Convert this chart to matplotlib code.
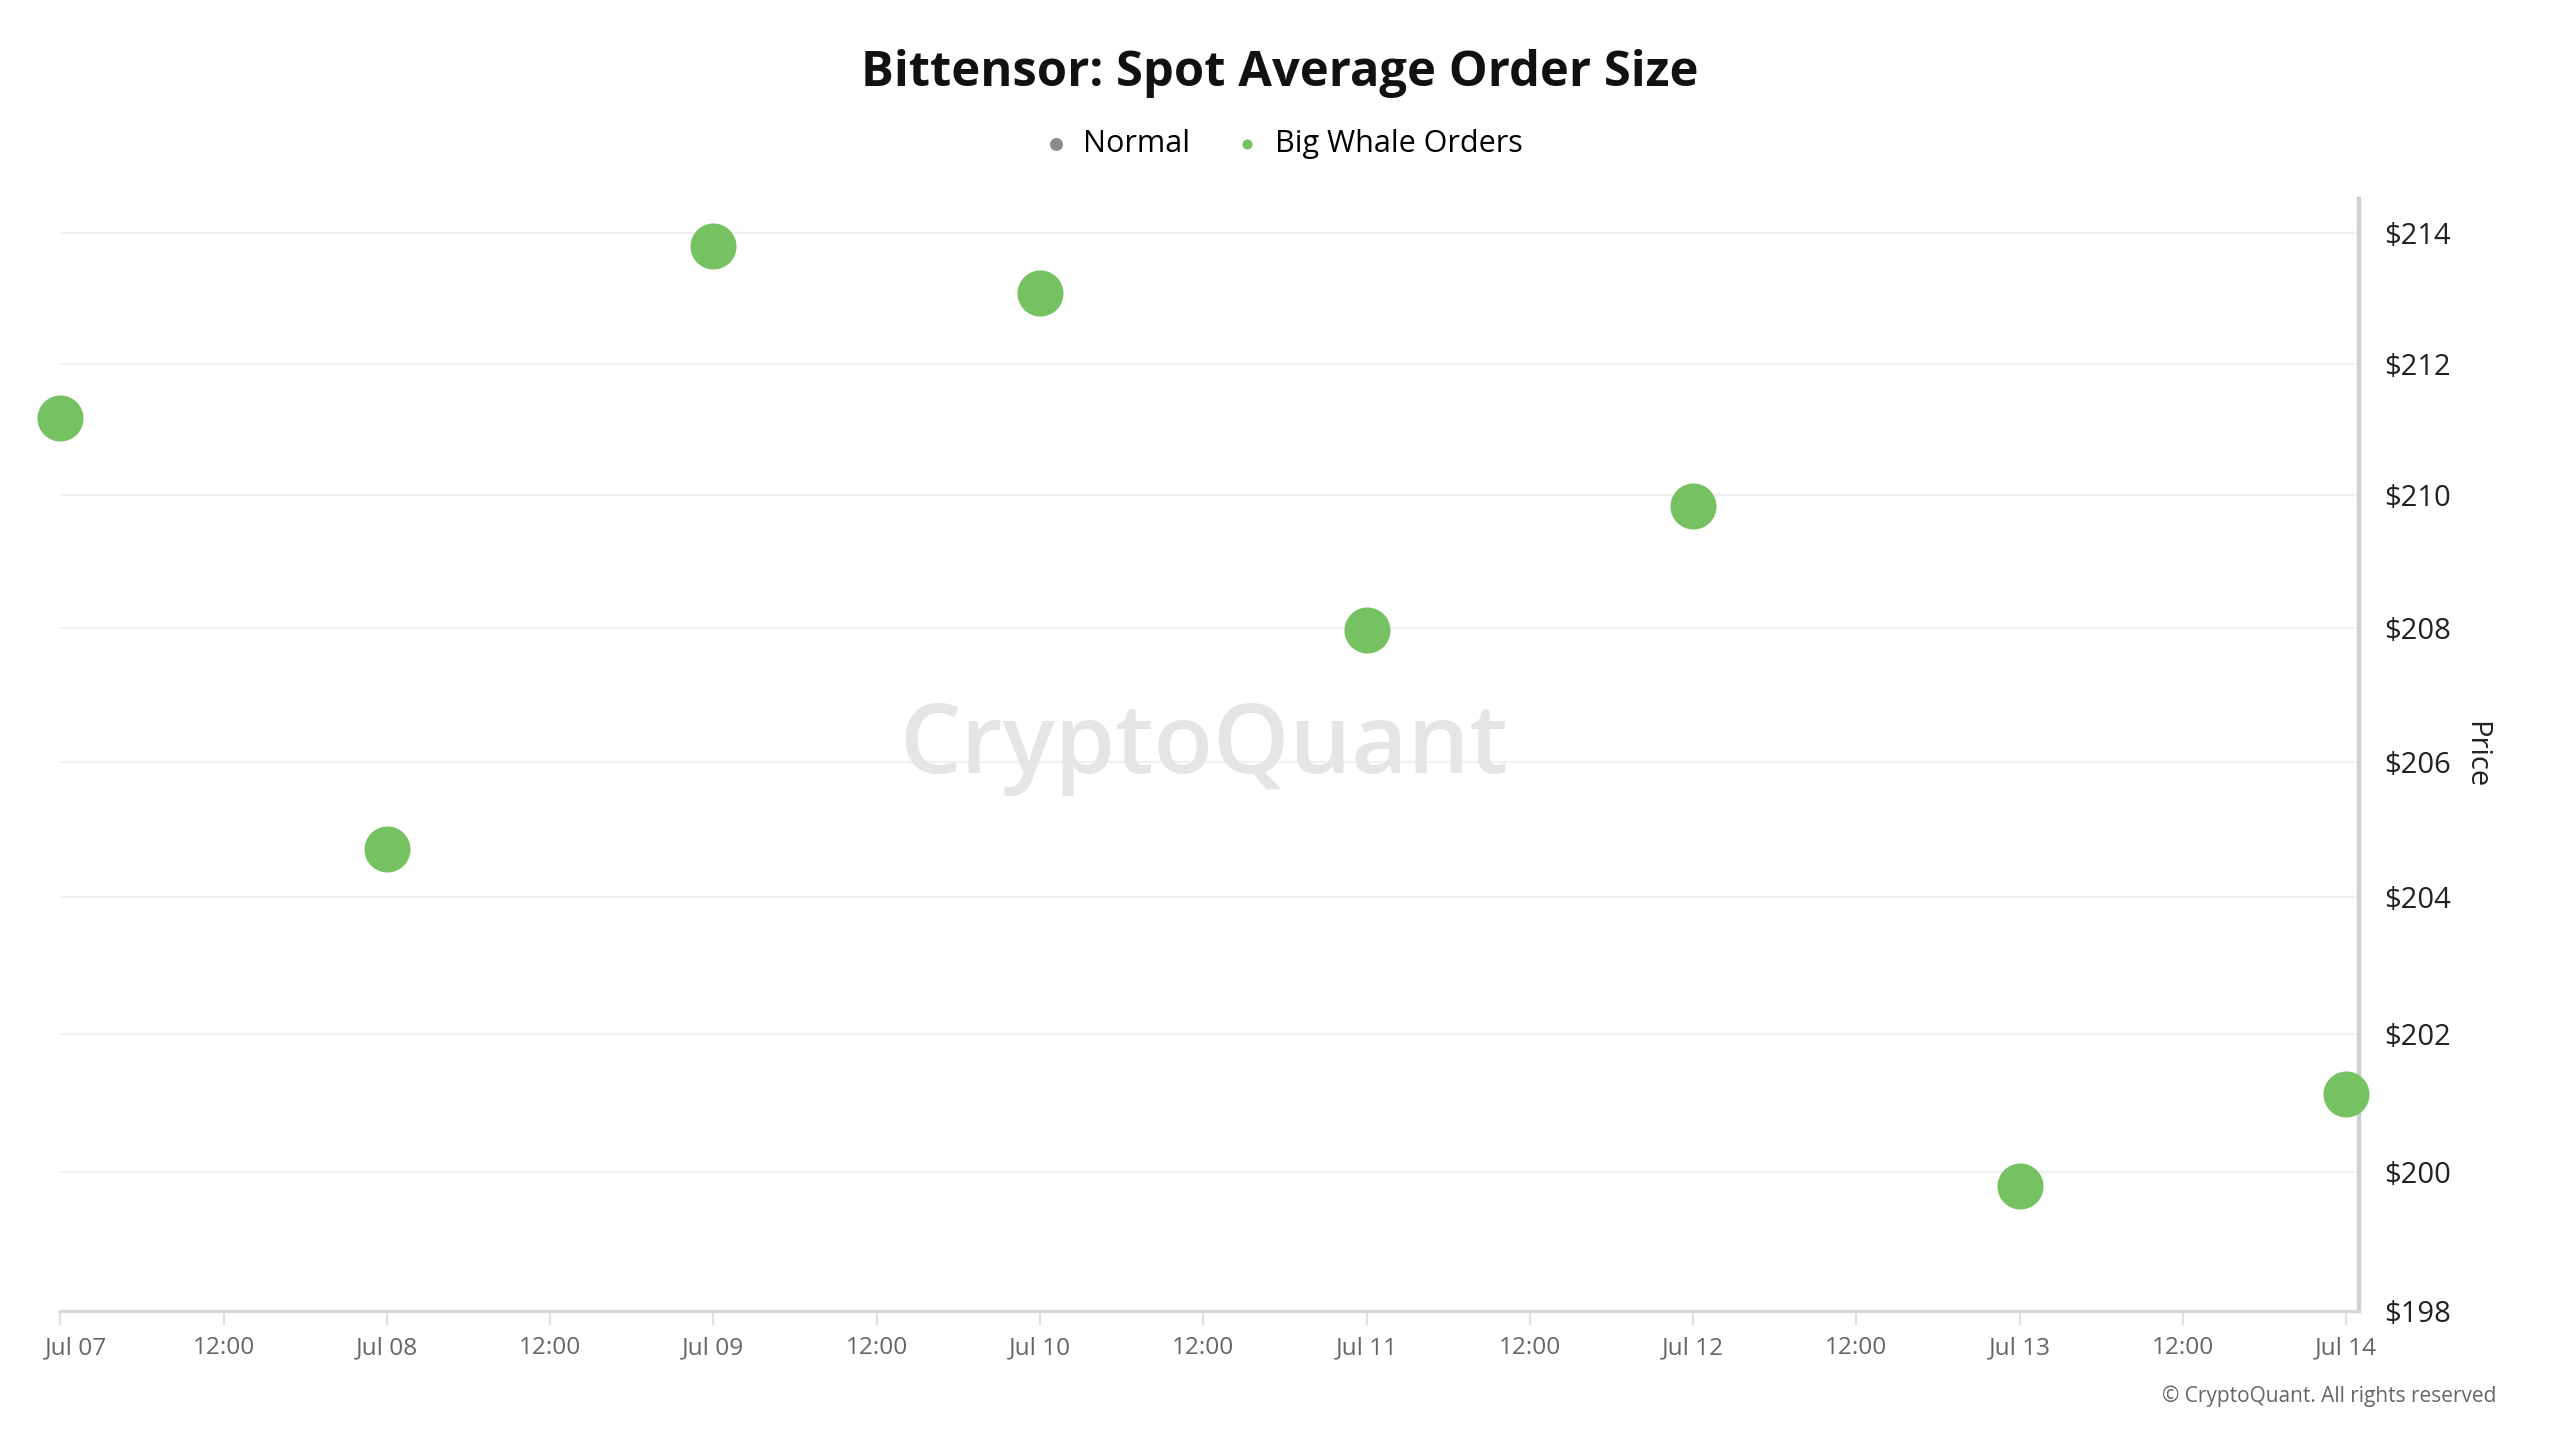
import matplotlib
matplotlib.use("Agg")
import matplotlib.pyplot as plt
from matplotlib.ticker import FixedLocator, NullLocator
import matplotlib.transforms as mtrans
from datetime import datetime, timedelta

plt.rcParams['font.family'] = ['Open Sans', 'DejaVu Sans']

# data
dates = ["2025-07-07", "2025-07-08", "2025-07-09", "2025-07-10",
         "2025-07-11", "2025-07-12", "2025-07-13", "2025-07-14"]
whale_price = [211.17, 204.71, 213.80, 213.09, 207.97, 209.83, 199.80, 201.12]
normal_dates = []
normal_price = []
price_ticks = [198, 200, 202, 204, 206, 208, 210, 212, 214]

x = [datetime.strptime(d, "%Y-%m-%d") for d in dates]
xn = [datetime.strptime(d, "%Y-%m-%d") for d in normal_dates]

green = "#76c262"
grey = "#8a8a8a"

fig = plt.figure(figsize=(12.8, 7.2), dpi=200)
ax = fig.add_axes([37/1568, 1 - 803/882, (1445 - 37)/1568, (803 - 122)/882])

ax.scatter(xn, normal_price, s=275, color=grey, label="Normal", zorder=3)
ax.scatter(x, whale_price, s=275, color=green, label="Big Whale Orders",
           zorder=3, clip_on=False, linewidths=0)

ax.set_yscale("log")
ax.set_ylim(198, 214.53)
ax.yaxis.set_major_locator(FixedLocator(price_ticks))
ax.yaxis.set_minor_locator(NullLocator())
ax.set_yticklabels(["$%d" % p for p in price_ticks])
ax.yaxis.tick_right()
ax.yaxis.set_label_position("right")
ax.tick_params(axis="y", length=0, pad=9, labelsize=10.5, labelcolor="#222222")
ax.set_ylabel("Price", rotation=270, fontsize=10.5, color="#222222", labelpad=14)
ax.grid(axis="y", color="#f1f1f1", linewidth=0.8)

x0 = x[0]
ax.set_xlim(x0, x[-1] + timedelta(days=0.04))
xt = [x0 + timedelta(hours=12 * i) for i in range(15)]
ax.set_xticks(xt)
ax.set_xticklabels([d.strftime("%b %d") if d.hour == 0 else "12:00" for d in xt])
ax.tick_params(axis="x", length=5, width=0.8, color="#e0e0e0", pad=4,
               labelsize=8.8, labelcolor="#666666")
# first label is pushed inside like in the original
first = ax.get_xticklabels()[0]
first.set_transform(first.get_transform() + mtrans.ScaledTranslation(0.08, 0, fig.dpi_scale_trans))

for side in ["top", "left"]:
    ax.spines[side].set_visible(False)
ax.spines["bottom"].set_color("#d8d8d8")
ax.spines["bottom"].set_linewidth(1.2)
ax.spines["right"].set_color("#d0d0d0")
ax.spines["right"].set_linewidth(1.6)

fig.text(0.5, 1 - 45/882, "Bittensor: Spot Average Order Size", ha="center", va="center",
         fontsize=17.6, fontweight="bold", color="#111111")

leg = fig.legend(loc="center", bbox_to_anchor=(0.5, 1 - 88/882), ncol=2, frameon=False,
                 fontsize=11, markerscale=0.22, handletextpad=0.3, columnspacing=1.27,
                 handlelength=1.2)

fig.text(737/1568, 1 - 458/882, "CryptoQuant", ha="center", va="center",
         fontsize=35, color="#e5e5e8", fontweight="semibold", zorder=0)

fig.text(1529/1568, 1 - 855/882, "© CryptoQuant. All rights reserved", ha="right",
         va="center", fontsize=7.5, color="#666666")

fig.savefig("out.png", dpi=200)
